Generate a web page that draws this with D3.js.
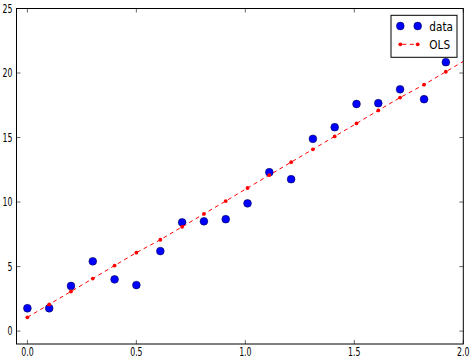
<!DOCTYPE html>
<html>
<head>
<meta charset="utf-8">
<script src="https://cdn.jsdelivr.net/npm/d3@7"></script>
<style>
  html, body { margin: 0; padding: 0; background: #fff; }
  svg { display: block; }
  text { font-family: "DejaVu Sans", sans-serif; fill: #000; }
</style>
</head>
<body>
<svg id="chart"></svg>
<script>
// Values.
const xValues = [0.00, 0.10, 0.20, 0.30, 0.40, 0.50, 0.61, 0.71, 0.81, 0.91,
                 1.01, 1.11, 1.21, 1.31, 1.41, 1.51, 1.61, 1.71, 1.82, 1.92, 2.02];
const dataValues = [1.77, 1.77, 3.50, 5.41, 4.01, 3.57, 6.20, 8.43, 8.51, 8.67,
                    9.90, 12.31, 11.77, 14.90, 15.80, 17.60, 17.66, 18.74, 17.97, 20.84, 21.30];
const olsValues = [1.07, 2.07, 3.07, 4.07, 5.08, 6.08, 7.08, 8.08, 9.08, 10.08,
                   11.09, 12.09, 13.09, 14.09, 15.09, 16.09, 17.10, 18.10, 19.10, 20.10, 21.10];
const xTicks = [0.0, 0.5, 1.0, 1.5, 2.0];
const yTicks = [0, 5, 10, 15, 20, 25];
const legendLabels = ["data", "OLS"];

const width = 472;
const height = 362;

const svg = d3.select("#chart")
  .attr("width", width)
  .attr("height", height);

// Plot area edges
const pLeft = 16.5, pRight = 463.3, pTop = 8.5, pBottom = 344;

const x = d3.scaleLinear().domain([-0.05, 2.0]).range([pLeft, pRight]);
const y = d3.scaleLinear().domain([-1, 25]).range([pBottom, pTop]);

svg.append("defs").append("clipPath")
  .attr("id", "plotClip")
  .append("rect")
  .attr("x", pLeft).attr("y", pTop)
  .attr("width", pRight - pLeft).attr("height", pBottom - pTop);

const plot = svg.append("g").attr("clip-path", "url(#plotClip)");

const points = xValues.map((d, i) => ({ x: d, data: dataValues[i], ols: olsValues[i] }));

const dotR = 3.9;
const olsR = 1.9;

// Data markers
plot.selectAll(".dot")
  .data(points)
  .enter()
  .append("circle")
  .attr("class", "dot")
  .attr("cx", d => x(d.x))
  .attr("cy", d => y(d.data))
  .attr("r", dotR)
  .attr("fill", "#0000ff")
  .attr("stroke", "#000033")
  .attr("stroke-width", 0.5);

// OLS fitted line, red dashed with point markers
plot.append("path")
  .datum(points)
  .attr("fill", "none")
  .attr("stroke", "#ff0000")
  .attr("stroke-width", 1)
  .attr("stroke-dasharray", "4,3.5")
  .attr("d", d3.line().x(d => x(d.x)).y(d => y(d.ols)));

plot.selectAll(".olsdot")
  .data(points)
  .enter()
  .append("circle")
  .attr("class", "olsdot")
  .attr("cx", d => x(d.x))
  .attr("cy", d => y(d.ols))
  .attr("r", olsR)
  .attr("fill", "#ff0000");

// Frame
svg.append("rect")
  .attr("x", pLeft).attr("y", pTop)
  .attr("width", pRight - pLeft).attr("height", pBottom - pTop)
  .attr("fill", "none")
  .attr("stroke", "#000")
  .attr("stroke-width", 1);

// Ticks point inward on all four sides
const tickLen = 4;
const ticks = svg.append("g").attr("stroke", "#000").attr("stroke-width", 0.6);

xTicks.forEach(t => {
  ticks.append("line").attr("x1", x(t)).attr("x2", x(t)).attr("y1", pBottom).attr("y2", pBottom - tickLen);
  ticks.append("line").attr("x1", x(t)).attr("x2", x(t)).attr("y1", pTop).attr("y2", pTop + tickLen);
});
yTicks.forEach(t => {
  ticks.append("line").attr("x1", pLeft).attr("x2", pLeft + tickLen).attr("y1", y(t)).attr("y2", y(t));
  ticks.append("line").attr("x1", pRight).attr("x2", pRight - tickLen).attr("y1", y(t)).attr("y2", y(t));
});

// Tick labels (the reference uses a narrow face, so squeeze horizontally)
const tickScale = 0.68;
svg.selectAll(".xlab")
  .data(xTicks)
  .enter()
  .append("text")
  .attr("class", "xlab")
  .attr("transform", d => `translate(${x(d)},${pBottom + 12}) scale(${tickScale},1)`)
  .attr("text-anchor", "middle")
  .style("font-size", "11.5px")
  .text(d => d.toFixed(1));

svg.selectAll(".ylab")
  .data(yTicks)
  .enter()
  .append("text")
  .attr("class", "ylab")
  .attr("transform", d => `translate(${pLeft - 4},${y(d) + 4}) scale(${tickScale},1)`)
  .attr("text-anchor", "end")
  .style("font-size", "11.5px")
  .text(d => d);

// Legend
const legend = svg.append("g");
legend.append("rect")
  .attr("x", 391).attr("y", 15.3)
  .attr("width", 66).attr("height", 42)
  .attr("fill", "#fff")
  .attr("stroke", "#000")
  .attr("stroke-width", 1);

const rowY = [26, 44.3];
const mx = [400.3, 417.7];

mx.forEach(m => {
  legend.append("circle")
    .attr("cx", m).attr("cy", rowY[0]).attr("r", dotR)
    .attr("fill", "#0000ff").attr("stroke", "#000033").attr("stroke-width", 0.5);
});
legend.append("line")
  .attr("x1", mx[0]).attr("x2", mx[1]).attr("y1", rowY[1]).attr("y2", rowY[1])
  .attr("stroke", "#ff0000").attr("stroke-width", 1).attr("stroke-dasharray", "4,3.5")
  .attr("stroke-dashoffset", -2);
mx.forEach(m => {
  legend.append("circle")
    .attr("cx", m).attr("cy", rowY[1]).attr("r", olsR)
    .attr("fill", "#ff0000");
});

legend.selectAll(".leglab")
  .data(legendLabels)
  .enter()
  .append("text")
  .attr("class", "leglab")
  .attr("transform", (d, i) => `translate(429.3,${rowY[i] + 4.5}) scale(0.84,1)`)
  .style("font-size", "12.5px")
  .text(d => d);
</script>
</body>
</html>
